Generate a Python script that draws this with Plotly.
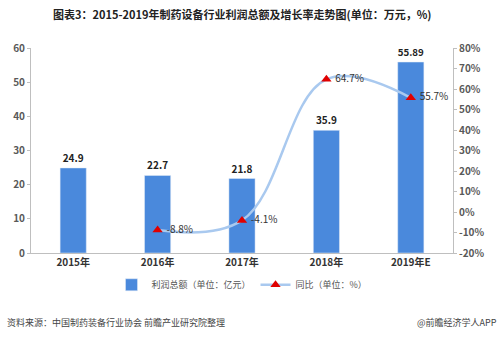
import plotly.graph_objects as go

categories = ["2015年", "2016年", "2017年", "2018年", "2019年E"]
profit = [24.9, 22.7, 21.8, 35.9, 55.89]
profit_labels = ["24.9", "22.7", "21.8", "35.9", "55.89"]
growth_cats = ["2016年", "2017年", "2018年", "2019年E"]
growth = [-8.8, -4.1, 64.7, 55.7]
growth_labels = ["-8.8%", "-4.1%", "64.7%", "55.7%"]
left_ticks = [0, 10, 20, 30, 40, 50, 60]
right_ticks = [-20, -10, 0, 10, 20, 30, 40, 50, 60, 70, 80]

FONT = "Noto Sans CJK SC"
GRAY = "#595959"

fig = go.Figure()
fig.add_trace(go.Bar(
    x=categories, y=profit, name="利润总额（单位：亿元）",
    marker_color="#4A89DC", width=0.31,
    text=profit_labels, textposition="outside", cliponaxis=False,
    textfont=dict(family=FONT, size=10, color="#222222", weight="bold"),
))
fig.add_trace(go.Scatter(
    x=growth_cats, y=growth, name="同比（单位：%）", yaxis="y2",
    mode="lines+markers+text",
    line=dict(color="#A9C9EF", width=2.5, shape="spline", smoothing=1.1),
    marker=dict(symbol="triangle-up", color="#E00000", size=9),
    text=["\u00a0" + t for t in growth_labels], textposition="middle right",
    textfont=dict(family=FONT, size=10, color="#333333"),
    cliponaxis=False,
))

fig.update_layout(
    width=500, height=337,
    margin=dict(l=31, r=47, t=48, b=84),
    paper_bgcolor="white", plot_bgcolor="white",
    font=dict(family=FONT, color=GRAY, size=10),
    bargap=0.69,
    showlegend=True,
    legend=dict(orientation="h", x=0.5, xanchor="center", y=-0.155, yanchor="middle",
                font=dict(size=9, color="#555555"), itemwidth=30),
    xaxis=dict(showline=True, linecolor="#BFBFBF", linewidth=1, ticks="",
               tickfont=dict(size=10, color="#333333", weight="bold"), showgrid=False),
    yaxis=dict(range=[0, 60], tickvals=left_ticks, showline=True, linecolor="#BFBFBF",
               ticks="outside", ticklen=3, tickcolor="#BFBFBF", showgrid=False, zeroline=False,
               tickfont=dict(size=10, color=GRAY, weight="bold")),
    yaxis2=dict(range=[-20, 80], tickvals=right_ticks, ticktext=[f"{v}%" for v in right_ticks],
                overlaying="y", side="right", showline=True, linecolor="#BFBFBF",
                ticks="outside", ticklen=3, tickcolor="#BFBFBF", showgrid=False, zeroline=False,
                tickfont=dict(size=10, color=GRAY, weight="bold")),
    annotations=[
        dict(text="<b>图表3：2015-2019年制药设备行业利润总额及增长率走势图(单位：万元，%)</b>",
             xref="paper", yref="paper", x=0.5, y=1.166, xanchor="center", yanchor="middle",
             showarrow=False, font=dict(size=11, color="#222222")),
        dict(text="资料来源：中国制药装备行业协会 前瞻产业研究院整理",
             xref="paper", yref="paper", x=-0.062, y=-0.337, xanchor="left", yanchor="middle",
             showarrow=False, font=dict(size=9, color="#444444")),
        dict(text="@前瞻经济学人APP",
             xref="paper", yref="paper", x=1.11, y=-0.337, xanchor="right", yanchor="middle",
             showarrow=False, font=dict(size=9, color="#444444")),
    ],
)

fig.write_html("out.html")
